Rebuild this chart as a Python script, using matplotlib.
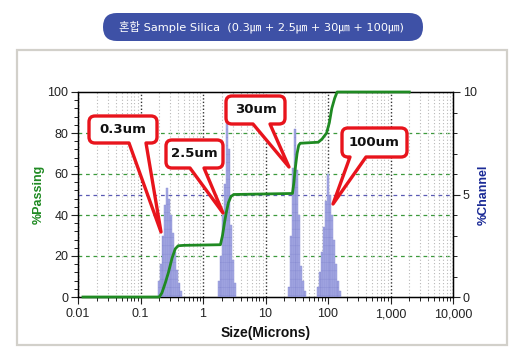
import numpy as np
import matplotlib.pyplot as plt
from matplotlib.patches import FancyBboxPatch, PathPatch, Rectangle
from matplotlib.path import Path
from matplotlib.ticker import MultipleLocator, LogLocator, NullFormatter, FixedLocator

W, H = 513, 353

# cumulative %passing curve
cum_size = [0.012, 0.20, 0.22, 0.25, 0.28, 0.32, 0.36, 0.40, 0.5, 1.9, 2.05, 2.2, 2.35,
            2.55, 2.8, 3.1, 27.0, 28.5, 30.0, 32.0, 34.0, 36.0, 70.0, 80.0, 95.0, 105.0,
            115.0, 128.0, 140.0, 2000.0]
cum_pass = [0, 0, 2, 7, 12, 19, 23.5, 25, 25.2, 25.5, 30, 36, 41,
            46, 49, 50, 50.5, 56, 63, 70, 74, 75, 75.5, 77, 80, 85,
            92, 97, 100, 100]

# %channel histograms, one per peak
p1_size = [0.199, 0.214, 0.230, 0.248, 0.267, 0.287, 0.309, 0.333, 0.358, 0.386, 0.415, 0.446]
p1_chan = [0.8, 1.6, 3.0, 4.5, 5.3, 4.8, 4.0, 3.1, 2.2, 1.3, 0.7, 0.3]
p2_size = [1.818, 1.957, 2.107, 2.269, 2.443, 2.630, 2.832, 3.049, 3.283]
p2_chan = [0.8, 2.0, 4.0, 5.5, 9.6, 7.2, 3.5, 1.8, 0.7]
p3_size = [24.06, 25.91, 27.89, 30.03, 32.34, 34.82, 37.49, 40.36, 43.46]
p3_chan = [0.5, 3.0, 6.3, 8.2, 6.2, 4.0, 1.5, 0.8, 0.3]
p4_size = [70.2, 75.6, 81.4, 87.6, 94.4, 101.6, 109.4, 117.8, 126.8, 136.6, 147.0, 158.3]
p4_chan = [0.5, 1.2, 2.2, 3.4, 4.7, 6.0, 5.0, 4.0, 2.8, 1.6, 0.8, 0.3]
ch_ratio = 1.0767

xtick_vals = [0.01, 0.1, 1, 10, 100, 1000, 10000]
xtick_labels = ["0.01", "0.1", "1", "10", "100", "1,000", "10,000"]
pass_grid = [20, 40, 60, 80]
chan_mid = 5

plt.rcParams['font.family'] = ['Liberation Sans', 'DejaVu Sans']
plt.rcParams['hatch.linewidth'] = 0.35

fig = plt.figure(figsize=(W / 100, H / 100), dpi=100)
fig.patch.set_facecolor('white')

# outer frame and title pill
fig.add_artist(Rectangle((17 / W, 1 - 345 / H), 490 / W, 295 / H, transform=fig.transFigure,
                         facecolor='white', edgecolor='#d2d0ca', lw=1.6, zorder=-1))
fig.add_artist(FancyBboxPatch((103 / W, 1 - 41 / H), 320 / W, 28 / H,
                              boxstyle="round,pad=0,rounding_size=0.027",
                              mutation_aspect=W / H,
                              transform=fig.transFigure, facecolor='#3e51a6',
                              edgecolor='none', zorder=1))
fig.text(261 / W, 1 - 27 / H, "혼합 Sample Silica  (0.3㎛ + 2.5㎛ + 30㎛ + 100㎛)",
         color='white', fontsize=8.2, ha='center', va='center',
         family=['DejaVu Sans', 'Noto Sans CJK KR'], zorder=2)

ax = fig.add_axes([78 / W, 1 - 297 / H, 375 / W, 205 / H])
ax.set_xscale('log')
ax.set_xlim(0.01, 10000)
ax.set_ylim(0, 100)

# grid
ax.grid(which='major', axis='x', color='#333333', ls=(0, (1, 1.5)), lw=1.0)
ax.grid(which='minor', axis='x', color='#b8b8b8', ls=(0, (1, 2)), lw=0.8)
for v in pass_grid:
    ax.axhline(v, color='#3c9a3c', ls=(0, (3, 3)), lw=0.9, zorder=0.5)

ax2 = ax.twinx()
ax2.set_ylim(0, 10)
ax2.axhline(chan_mid, color='#5a5ab4', ls=(0, (3, 3)), lw=0.9, zorder=0.5)

for sz, ch in [(p1_size, p1_chan), (p2_size, p2_chan), (p3_size, p3_chan), (p4_size, p4_chan)]:
    sz = np.array(sz)
    left = sz / np.sqrt(ch_ratio)
    width = sz * np.sqrt(ch_ratio) - left
    ax2.bar(left, ch, width=width, align='edge', color='#a4a8e2', edgecolor='#8a8ed4',
            lw=0.3, hatch='++', zorder=2)

ax3 = ax.twinx()
ax3.set_ylim(0, 100)
ax3.set_axis_off()
ax3.plot(cum_size, cum_pass, color='#1f8a22', lw=2.0, clip_on=False, zorder=3)

# ticks
ax.xaxis.set_major_locator(FixedLocator(xtick_vals))
ax.set_xticklabels(xtick_labels)
ax.xaxis.set_minor_locator(LogLocator(base=10, subs=np.arange(2, 10)))
ax.xaxis.set_minor_formatter(NullFormatter())
ax.yaxis.set_major_locator(MultipleLocator(20))
ax.yaxis.set_minor_locator(MultipleLocator(4))
ax2.yaxis.set_major_locator(MultipleLocator(5))
ax2.yaxis.set_minor_locator(MultipleLocator(1))
for a in (ax, ax2):
    a.tick_params(which='major', direction='out', length=5, width=0.8, labelsize=9,
                  color='#222222', labelcolor='#222222', pad=2)
    a.tick_params(which='minor', direction='out', length=3, width=0.7, color='#222222')
for s in ax.spines.values():
    s.set_linewidth(1.0)
ax.tick_params(axis='x', which='major', length=5, pad=3)

ax.set_xlabel("Size(Microns)", fontsize=10, fontweight='bold', labelpad=4, color='#111111')
ax.set_ylabel("%Passing", fontsize=9, fontweight='bold', color='#1f8a22', labelpad=2)
ax2.set_ylabel("%Channel", fontsize=9, fontweight='bold', color='#1a2a96',
               rotation=90, labelpad=1)

# callouts
RED = '#e8141c'


def callout(box, base, tip, label):
    x0, y0, x1, y1 = box
    bl, br = base
    tx, ty = tip
    r = 6
    pts = [(x0 + r, y0), (x1 - r, y0), (x1, y0), (x1, y0 + r), (x1, y1 - r), (x1, y1),
           (x1 - r, y1), (br, y1), (tx, ty), (bl, y1), (x0 + r, y1), (x0, y1), (x0, y1 - r),
           (x0, y0 + r), (x0, y0), (x0 + r, y0), (x0 + r, y0)]
    codes = [Path.MOVETO, Path.LINETO, Path.CURVE3, Path.CURVE3, Path.LINETO, Path.CURVE3,
             Path.CURVE3, Path.LINETO, Path.LINETO, Path.LINETO, Path.LINETO, Path.CURVE3,
             Path.CURVE3, Path.LINETO, Path.CURVE3, Path.CURVE3, Path.CLOSEPOLY]
    verts = [(x / W, 1 - y / H) for x, y in pts]
    fig.add_artist(PathPatch(Path(verts, codes), transform=fig.transFigure,
                             facecolor='white', edgecolor=RED, lw=2.4, zorder=5,
                             joinstyle='round'))
    fig.text((x0 + x1) / 2 / W, 1 - (y0 + y1) / 2 / H, label, ha='center', va='center',
             fontsize=9.5, fontweight='bold', color='#111111', zorder=6,
             family=['DejaVu Sans'])


callout((89, 116, 157, 143), (129, 146), (161, 232), "0.3um")
callout((166, 140, 223, 168), (190, 204), (223, 213), "2.5um")
callout((226, 96, 285, 124), (253, 270), (289, 167), "30um")
callout((342, 128, 407, 157), (350, 366), (333, 204), "100um")

fig.savefig("out.png", dpi=100)
